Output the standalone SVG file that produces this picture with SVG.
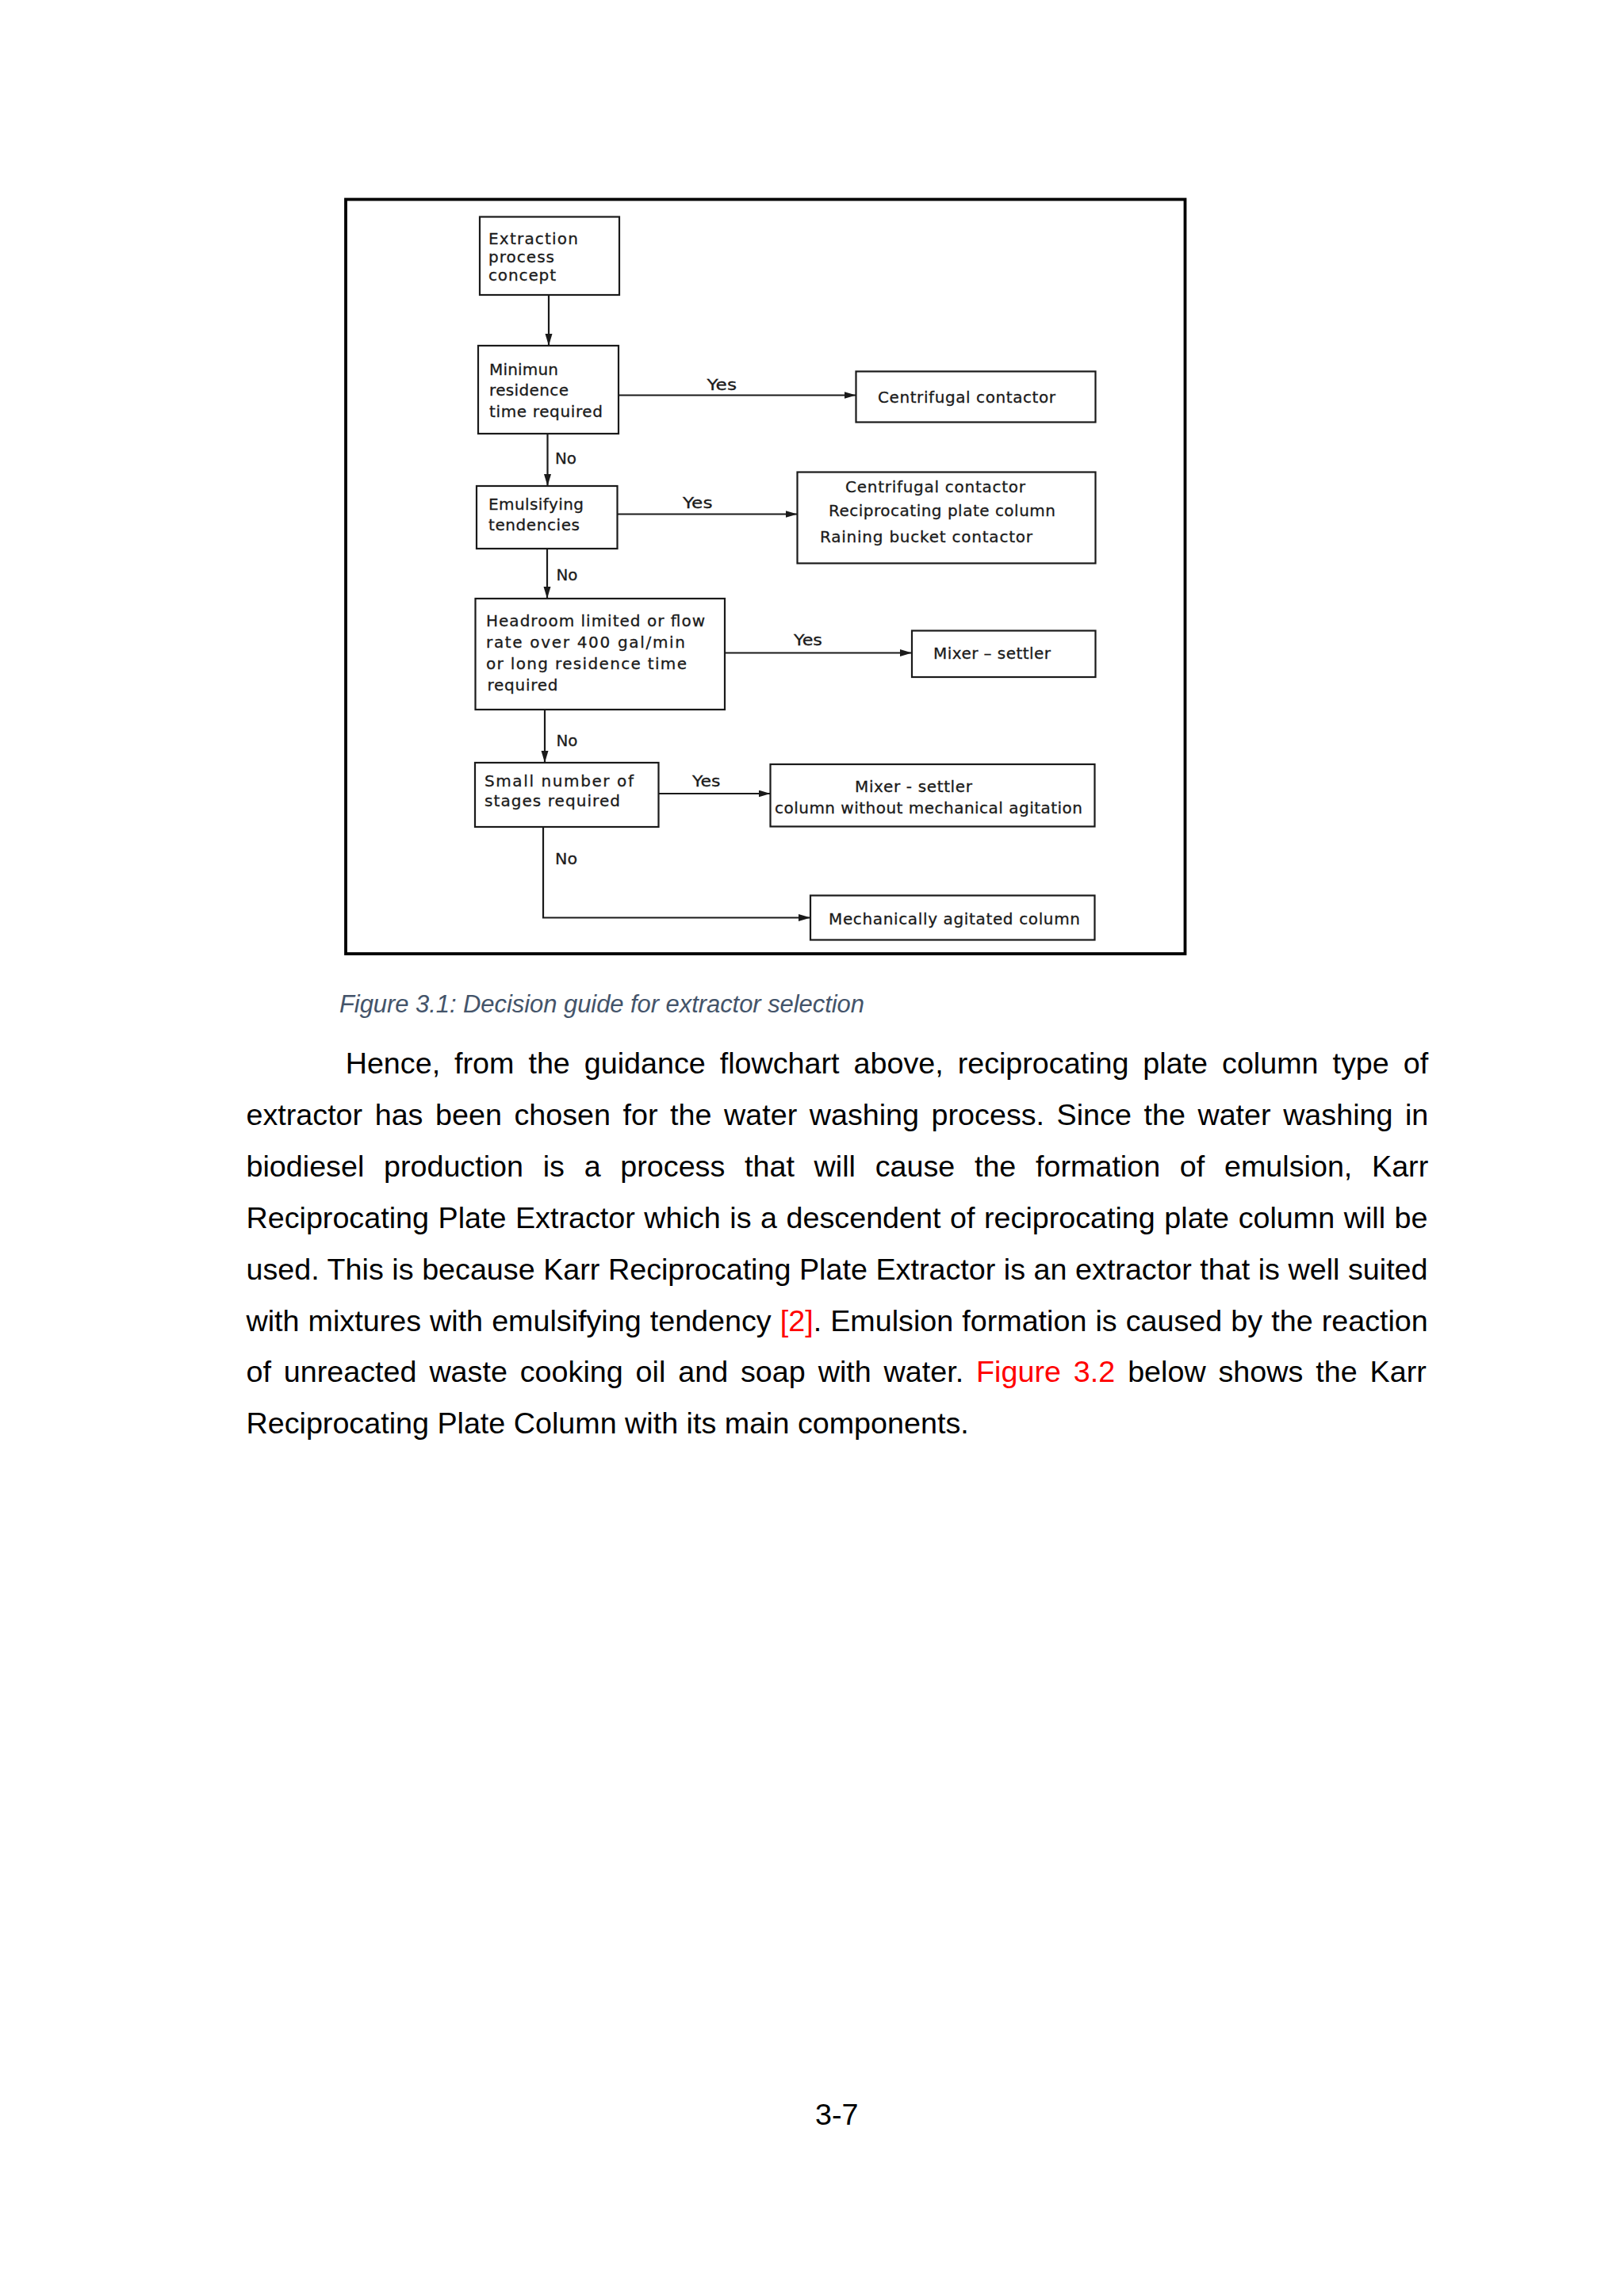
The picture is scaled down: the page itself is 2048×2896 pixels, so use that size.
<svg xmlns="http://www.w3.org/2000/svg" width="2048" height="2896" viewBox="0 0 2048 2896">
<defs>
<style>
.box{fill:#fff;stroke:#1a1a1a;stroke-width:2.2}
.ft{font-family:"DejaVu Sans","Liberation Sans",sans-serif;font-size:20px;fill:#1a1a1a;stroke:#1a1a1a;stroke-width:0.3}
.lbl{font-family:"DejaVu Sans","Liberation Sans",sans-serif;font-size:20px;fill:#1a1a1a;stroke:#1a1a1a;stroke-width:0.3}
.con{fill:none;stroke:#1a1a1a;stroke-width:2.2}
.body{font-family:"Liberation Sans",Arial,sans-serif;font-size:37.7px;fill:#000}
.red{fill:#ff0000}
</style>
<marker id="ah" markerWidth="16" markerHeight="10" refX="15" refY="4.5" orient="auto" markerUnits="userSpaceOnUse">
<path d="M0,0 L15,4.5 L0,9 z" fill="#1a1a1a"/>
</marker>
</defs>
<rect width="2048" height="2896" fill="#ffffff"/>
<rect x="436" y="251.5" width="1058.5" height="951.5" fill="#ffffff" stroke="#000" stroke-width="3.8"/>

<g id="connectors">
<path class="con" d="M692,372 V436" marker-end="url(#ah)"/>
<path class="con" d="M690.5,547 V613" marker-end="url(#ah)"/>
<path class="con" d="M690,692 V755" marker-end="url(#ah)"/>
<path class="con" d="M687,895 V962" marker-end="url(#ah)"/>
<path class="con" d="M685,1043 V1157.5 H1022" marker-end="url(#ah)"/>
<path class="con" d="M780,498.5 H1079.5" marker-end="url(#ah)"/>
<path class="con" d="M778.5,648.5 H1005.5" marker-end="url(#ah)"/>
<path class="con" d="M914,823.5 H1150" marker-end="url(#ah)"/>
<path class="con" d="M830.5,1001 H971.5" marker-end="url(#ah)"/>
<text class="lbl" x="891.5" y="492" textLength="37.5" lengthAdjust="spacingAndGlyphs">Yes</text>
<text class="lbl" x="861" y="641" textLength="37.5" lengthAdjust="spacingAndGlyphs">Yes</text>
<text class="lbl" x="1001" y="814" textLength="36" lengthAdjust="spacingAndGlyphs">Yes</text>
<text class="lbl" x="873" y="992" textLength="35.5" lengthAdjust="spacingAndGlyphs">Yes</text>
<text class="lbl" x="700" y="585" textLength="27" lengthAdjust="spacingAndGlyphs">No</text>
<text class="lbl" x="701.5" y="732" textLength="27" lengthAdjust="spacingAndGlyphs">No</text>
<text class="lbl" x="701.5" y="941" textLength="27" lengthAdjust="spacingAndGlyphs">No</text>
<text class="lbl" x="700" y="1089.5" textLength="28" lengthAdjust="spacingAndGlyphs">No</text>
</g>

<g id="n-extraction">
<rect class="box" x="605" y="273.5" width="176" height="98.5"/>
<text class="ft" x="616" y="308" textLength="113" lengthAdjust="spacing">Extraction</text>
<text class="ft" x="616" y="331" textLength="83" lengthAdjust="spacing">process</text>
<text class="ft" x="616" y="354" textLength="85" lengthAdjust="spacing">concept</text>
</g>

<g id="n-minimum">
<rect class="box" x="603" y="436" width="177" height="111"/>
<text class="ft" x="617" y="473" textLength="87" lengthAdjust="spacing">Minimun</text>
<text class="ft" x="617" y="499" textLength="100" lengthAdjust="spacing">residence</text>
<text class="ft" x="617" y="526" textLength="143" lengthAdjust="spacing">time required</text>
</g>

<g id="n-centrifugal">
<rect class="box" x="1079.5" y="468.5" width="302" height="64"/>
<text class="ft" x="1107" y="508" textLength="224" lengthAdjust="spacing">Centrifugal contactor</text>
</g>

<g id="n-emulsifying">
<rect class="box" x="601" y="613" width="177.5" height="79"/>
<text class="ft" x="616" y="643" textLength="120" lengthAdjust="spacing">Emulsifying</text>
<text class="ft" x="616" y="669" textLength="115" lengthAdjust="spacing">tendencies</text>
</g>

<g id="n-three">
<rect class="box" x="1005.5" y="595.5" width="376" height="115"/>
<text class="ft" x="1066" y="621" textLength="227" lengthAdjust="spacing">Centrifugal contactor</text>
<text class="ft" x="1045" y="651" textLength="286" lengthAdjust="spacing">Reciprocating plate column</text>
<text class="ft" x="1034" y="684" textLength="268" lengthAdjust="spacing">Raining bucket contactor</text>
</g>

<g id="n-headroom">
<rect class="box" x="599.5" y="755" width="314.5" height="140"/>
<text class="ft" x="613" y="790" textLength="276" lengthAdjust="spacing">Headroom limited or flow</text>
<text class="ft" x="613" y="817" textLength="251" lengthAdjust="spacing">rate over 400 gal/min</text>
<text class="ft" x="613" y="844" textLength="253" lengthAdjust="spacing">or long residence time</text>
<text class="ft" x="614.5" y="871" textLength="89" lengthAdjust="spacing">required</text>
</g>

<g id="n-mixer1">
<rect class="box" x="1150" y="795.5" width="231.5" height="58.5"/>
<text class="ft" x="1177" y="831" textLength="148" lengthAdjust="spacing">Mixer – settler</text>
</g>

<g id="n-small">
<rect class="box" x="599" y="962" width="231.5" height="81"/>
<text class="ft" x="611" y="992" textLength="188" lengthAdjust="spacing">Small number of</text>
<text class="ft" x="611" y="1017" textLength="171" lengthAdjust="spacing">stages required</text>
</g>

<g id="n-mixer2">
<rect class="box" x="971.5" y="964" width="409" height="78.5"/>
<text class="ft" x="1078" y="999" textLength="148" lengthAdjust="spacing">Mixer - settler</text>
<text class="ft" x="977" y="1026" textLength="388" lengthAdjust="spacing">column without mechanical agitation</text>
</g>

<g id="n-mech">
<rect class="box" x="1022" y="1129.5" width="358.5" height="56"/>
<text class="ft" x="1045" y="1166" textLength="317" lengthAdjust="spacing">Mechanically agitated column</text>
</g>

<text x="428" y="1277" font-family="Liberation Sans,Arial,sans-serif" font-size="31" font-style="italic" fill="#44546A" textLength="662" lengthAdjust="spacing">Figure 3.1: Decision guide for extractor selection</text>

<g id="body">
<text class="body" x="435.7" y="1354" word-spacing="7.5">Hence, from the guidance flowchart above, reciprocating plate column type of</text>
<text class="body" x="310.5" y="1418.9" word-spacing="5.1">extractor has been chosen for the water washing process. Since the water washing in</text>
<text class="body" x="310.5" y="1483.8" word-spacing="14.25">biodiesel production is a process that will cause the formation of emulsion, Karr</text>
<text class="body" x="310.5" y="1548.7" word-spacing="1.1">Reciprocating Plate Extractor which is a descendent of reciprocating plate column will be</text>
<text class="body" x="310.5" y="1613.6" word-spacing="0.1">used. This is because Karr Reciprocating Plate Extractor is an extractor that is well suited</text>
<text class="body" x="310.5" y="1678.5" word-spacing="0.6"><tspan>with mixtures with emulsifying tendency </tspan><tspan class="red">[2]</tspan><tspan>. Emulsion formation is caused by the reaction</tspan></text>
<text class="body" x="310.5" y="1743.4" word-spacing="5.45"><tspan>of unreacted waste cooking oil and soap with water. </tspan><tspan class="red">Figure 3.2</tspan><tspan> below shows the Karr</tspan></text>
<text class="body" x="310.5" y="1808.3">Reciprocating Plate Column with its main components.</text>
</g>

<text class="body" x="1028" y="2680">3-7</text>
</svg>
